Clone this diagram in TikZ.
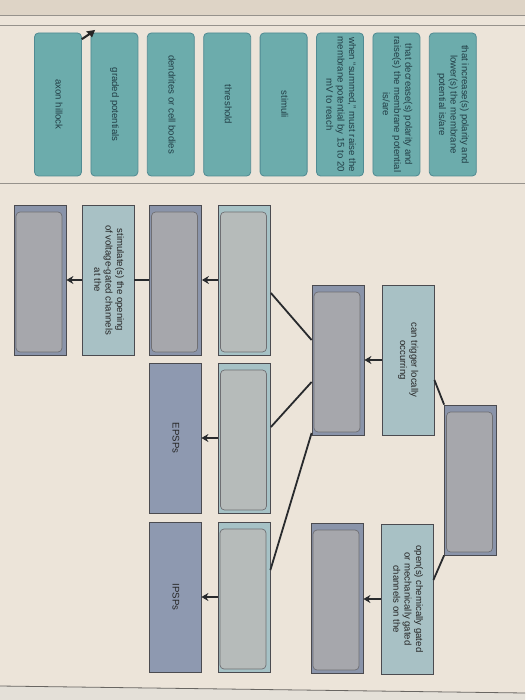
\documentclass[tikz,border=0pt]{standalone}
\usepackage{fontspec}
\setmainfont{Liberation Sans}
\usepackage{graphicx}
\usetikzlibrary{arrows.meta,positioning}
\definecolor{screenbg}{RGB}{236,228,217}
\definecolor{topbar}{RGB}{222,212,198}
\definecolor{bottomstrip}{RGB}{228,224,216}
\definecolor{rulegray}{RGB}{150,146,140}
\definecolor{tileteal}{RGB}{108,172,172}
\definecolor{tileedge}{RGB}{80,138,146}
\definecolor{tiletext}{RGB}{34,62,70}
\definecolor{linkfill}{RGB}{168,193,197}
\definecolor{darkslot}{RGB}{138,148,170}
\definecolor{lightslot}{RGB}{166,194,198}
\definecolor{cardgray}{RGB}{166,167,172}
\definecolor{cardpale}{RGB}{182,187,186}
\definecolor{termfill}{RGB}{142,153,176}
\definecolor{boxedge}{RGB}{75,75,80}
\definecolor{linkline}{RGB}{40,42,45}
\newcommand{\vtext}[1]{\rotatebox{-90}{\begin{tabular}{@{}c@{}}#1\end{tabular}}}

\begin{document}
\begin{tikzpicture}[
    x=1pt, y=-1pt,
    font=\fontsize{9.6}{11.3}\selectfont,
    tile/.style={
        draw=tileedge,
        fill=tileteal,
        rounded corners=4pt,
        minimum width=47pt,
        minimum height=143pt,
        inner sep=0pt,
        line width=0.8pt,
        text=tiletext
    },
    linkbox/.style={
        draw=boxedge,
        fill=linkfill,
        minimum width=52pt,
        minimum height=150pt,
        inner sep=0pt,
        line width=0.8pt,
        text=black!85
    },
    term/.style={
        linkbox,
        fill=termfill
    },
    slot/.style 2 args={
        draw=boxedge,
        fill=#1,
        minimum width=52pt,
        minimum height=150pt,
        inner sep=0pt,
        line width=0.8pt,
        path picture={
            \draw[boxedge!80, fill=#2, rounded corners=4pt, line width=0.7pt]
              ([xshift=2pt,yshift=3pt]path picture bounding box.south west) rectangle
              ([xshift=-4pt,yshift=-7pt]path picture bounding box.north east);
        }
    },
    arrow/.style={
        -{Stealth[length=7pt,width=8pt]},
        line width=1.8pt,
        linkline
    },
    joint/.style={
        line width=1.8pt,
        linkline
    }
]
\useasboundingbox (0,0) rectangle (525,700);
% Screen background
\fill[screenbg] (0,0) rectangle (525,700);
\fill[topbar] (0,0) rectangle (525,15);
\draw[rulegray, line width=0.6pt] (0,15) -- (525,15);
\draw[rulegray, line width=0.8pt] (0,25) -- (525,25);
\draw[rulegray, line width=0.8pt] (0,183) -- (525,183);
\fill[bottomstrip] (0,686) -- (525,693) -- (525,700) -- (0,700) -- cycle;
\draw[rulegray!70!black, line width=0.8pt] (0,686) -- (525,693);

% Word bank
\foreach \i/\nm/\txt in {
    0/hillock/{axon hillock},
    1/graded/{graded potentials},
    2/dendrites/{dendrites or cell bodies},
    3/threshold/{threshold},
    4/stimuli/{stimuli},
    5/summed/{when ``summed,'' must raise the\\membrane potential by 15 to 20\\mV to reach},
    6/decrease/{that decrease(s) polarity and\\raise(s) the membrane potential\\is/are},
    7/increase/{that increase(s) polarity and\\lower(s) the membrane\\potential is/are}} {
    \node[tile] at ({58+56.4*\i},104.5) (\nm) {\vtext{\txt}};
}
% Mouse pointer
\fill[black!85] (95,30) -- (86,31.5) -- (88.5,33.5) -- (81,38.5) -- (82.5,40) -- (90,35) -- (92,37.5) -- cycle;

% Top row
\node[slot={darkslot}{cardgray}] at (40,280) (zone) {};
\node[linkbox] at (108,280) (opens) {\vtext{stimulate(s) the opening\\of voltage-gated channels\\at the}};
\node[slot={darkslot}{cardgray}] at (175.5,280) (reach) {};
\node[slot={lightslot}{cardpale}] at (244.5,280) (sumup) {};
% Middle branch
\node[slot={darkslot}{cardgray}] at (338,360) (localgp) {};
\node[linkbox] at (408,360) (locally) {\vtext{can trigger locally\\occurring}};
\node[slot={darkslot}{cardgray}] at (470.5,480) (stim) {};
% EPSPs row
\node[term] at (175,438) (epsp) {\vtext{EPSPs}};
\node[slot={lightslot}{cardpale}] at (244.5,438) (epspcard) {};
% IPSPs row
\node[term] at (175,597) (ipsp) {\vtext{IPSPs}};
\node[slot={lightslot}{cardpale}] at (244,597) (ipspcard) {};
\node[slot={darkslot}{cardgray}] at (337,598) (sites) {};
\node[linkbox] at (407,599) (gated) {\vtext{open(s) chemically gated\\or mechanically gated\\channels on the}};

% Arrows
\draw[arrow] (sumup.west) -- (reach.east);
\draw[joint] (reach.west) -- (opens.east);
\draw[arrow] (opens.west) -- (zone.east);
\draw[arrow] (locally.west) -- (localgp.west -| localgp.east);
\draw[arrow] (epspcard.west) -- (epsp.east);
\draw[arrow] (ipspcard.west) -- (ipsp.east);
\draw[arrow] (gated.west) -- (gated.west -| sites.east);
% Branch lines
\draw[joint] ([yshift=20pt]localgp.west) -- ([yshift=-13pt]sumup.east);
\draw[joint] ([yshift=-22pt]localgp.west) -- ([yshift=11pt]epspcard.east);
\draw[joint] ([yshift=-73pt]localgp.west) -- ([yshift=27pt]ipspcard.east);
\draw[joint] ([yshift=-20pt]locally.east) -- (stim.north west);
\draw[joint] (stim.south west) -- ([yshift=19pt]gated.east);
\end{tikzpicture}
\end{document}
